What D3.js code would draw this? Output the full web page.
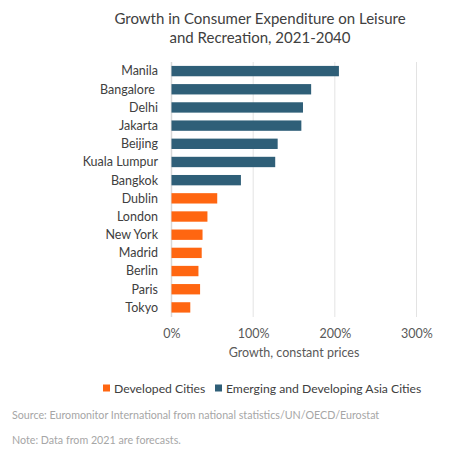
<!DOCTYPE html>
<html>
<head>
<meta charset="utf-8">
<script src="https://cdn.jsdelivr.net/npm/d3@7"></script>
<style>
  body { margin: 0; background: #fff; }
  text { font-family: Lato, "Open Sans", sans-serif; }
</style>
</head>
<body>
<svg width="465" height="457"></svg>
<script>
// values (growth in %, 2021-2040)
var cities = ["Manila", "Bangalore ", "Delhi", "Jakarta", "Beijing", "Kuala Lumpur", "Bangkok",
              "Dublin", "London", "New York", "Madrid", "Berlin", "Paris", "Tokyo"];
var growth = [205, 171, 161, 159, 130, 127, 85, 56, 44, 38, 37, 33, 35, 23];
var groups = ["asia", "asia", "asia", "asia", "asia", "asia", "asia",
              "dev", "dev", "dev", "dev", "dev", "dev", "dev"];
var ticks = [0, 100, 200, 300];
var legendLabels = ["Developed Cities", "Emerging and Developing Asia Cities"];

var colors = { dev: "#ff6611", asia: "#2f5f78" };

var svg = d3.select("svg");

var x = d3.scaleLinear().domain([0, 300]).range([171.5, 416.5]);
var y = d3.scaleBand().domain(d3.range(cities.length))
    .range([62, 316.5]).paddingInner(0.43).paddingOuter(0.215);

// title
svg.append("text")
    .attr("x", 260).attr("y", 24)
    .attr("text-anchor", "middle")
    .style("font-size", "15px").style("fill", "#404040")
    .text("Growth in Consumer Expenditure on Leisure");
svg.append("text")
    .attr("x", 260).attr("y", 43)
    .attr("text-anchor", "middle")
    .style("font-size", "15px").style("fill", "#404040")
    .text("and Recreation, 2021-2040");

// gridlines
svg.selectAll(".grid")
    .data(ticks)
    .enter().append("line")
    .attr("x1", function(d) { return x(d); })
    .attr("x2", function(d) { return x(d); })
    .attr("y1", 62).attr("y2", 317)
    .attr("stroke", function(d) { return d == 0 ? "#d9d9d9" : "#e3e3e3"; })
    .attr("stroke-width", function(d) { return d == 0 ? 1.5 : 1; });

// bars
svg.selectAll(".bar")
    .data(growth)
    .enter().append("rect")
    .attr("x", x(0))
    .attr("y", function(d, i) { return y(i); })
    .attr("width", function(d) { return x(d) - x(0); })
    .attr("height", y.bandwidth())
    .attr("fill", function(d, i) { return colors[groups[i]]; });

// city labels
svg.selectAll(".city")
    .data(cities)
    .enter().append("text")
    .attr("x", 158)
    .attr("y", function(d, i) { return y(i) + y.bandwidth() / 2; })
    .attr("dy", "0.35em")
    .attr("text-anchor", "end")
    .style("white-space", "pre")
    .style("font-size", "12.5px").style("fill", "#404040")
    .text(function(d) { return d; });

// x axis tick labels
var xAxis = d3.axisBottom(x).tickValues(ticks)
    .tickFormat(function(d) { return d + "%"; })
    .tickSize(0).tickPadding(0);
var gx = svg.append("g").attr("transform", "translate(0,329)").call(xAxis);
gx.select(".domain").remove();
gx.selectAll("text")
    .style("font-family", "Lato, sans-serif")
    .style("font-size", "12.5px").style("fill", "#595959");

svg.append("text")
    .attr("x", 294).attr("y", 357)
    .attr("text-anchor", "middle")
    .style("font-size", "12.5px").style("fill", "#595959")
    .text("Growth, constant prices");

// legend
var legendX = [103, 215];
var legendColors = [colors.dev, colors.asia];
legendLabels.forEach(function(l, i) {
    svg.append("rect")
        .attr("x", legendX[i]).attr("y", 384.5)
        .attr("width", 7).attr("height", 7)
        .attr("fill", legendColors[i]);
    svg.append("text")
        .attr("x", legendX[i] + 11).attr("y", 392.5)
        .style("font-size", "12.2px").style("fill", "#404040")
        .text(l);
});

// notes
svg.append("text")
    .attr("x", 12).attr("y", 419)
    .style("font-size", "10.7px").style("fill", "#a6a6a6")
    .text("Source: Euromonitor International from national statistics/UN/OECD/Eurostat");
svg.append("text")
    .attr("x", 12).attr("y", 444)
    .style("font-size", "10.7px").style("fill", "#a6a6a6")
    .text("Note: Data from 2021 are forecasts.");
</script>
</body>
</html>
